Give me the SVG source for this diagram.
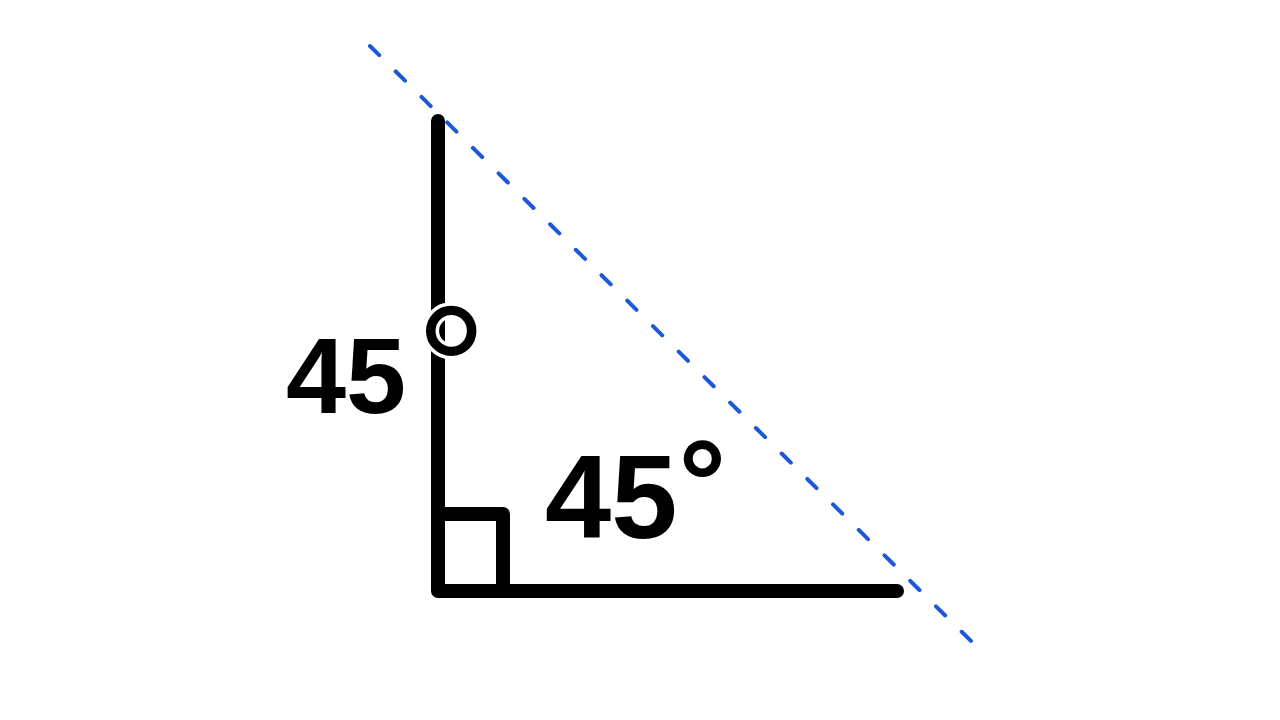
<svg xmlns="http://www.w3.org/2000/svg" width="1280" height="720" viewBox="0 0 1280 720">
<style>
.edge{fill:none;stroke:#000;stroke-width:14;stroke-linecap:round;stroke-linejoin:round}
.dash{fill:none;stroke:#1c58d8;stroke-width:4;stroke-linecap:round;stroke-dasharray:13 23.2}
.lbl{font-family:"Liberation Sans",Arial,sans-serif;font-weight:bold;fill:#000}
.deg{stroke:#fff;stroke-width:7;paint-order:stroke;font-weight:normal}
</style>
<rect width="1280" height="720" fill="#fff"/>
<g id="connectors">
<line class="dash" x1="370" y1="46" x2="971" y2="641"/>
</g>
<g id="triangle">
<polyline class="edge" points="438,121 438,591 897,591"/>
<polyline class="edge" points="438,514 503,514 503,591"/>
</g>
<g id="label-left">
<text class="lbl" x="286" y="413" font-size="108">45<tspan class="deg" dx="9" dy="19" font-size="180">°</tspan></text>
</g>
<g id="label-right">
<text class="lbl" x="545" y="538" font-size="119">45<tspan dx="1" dy="-15">°</tspan></text>
</g>
</svg>
